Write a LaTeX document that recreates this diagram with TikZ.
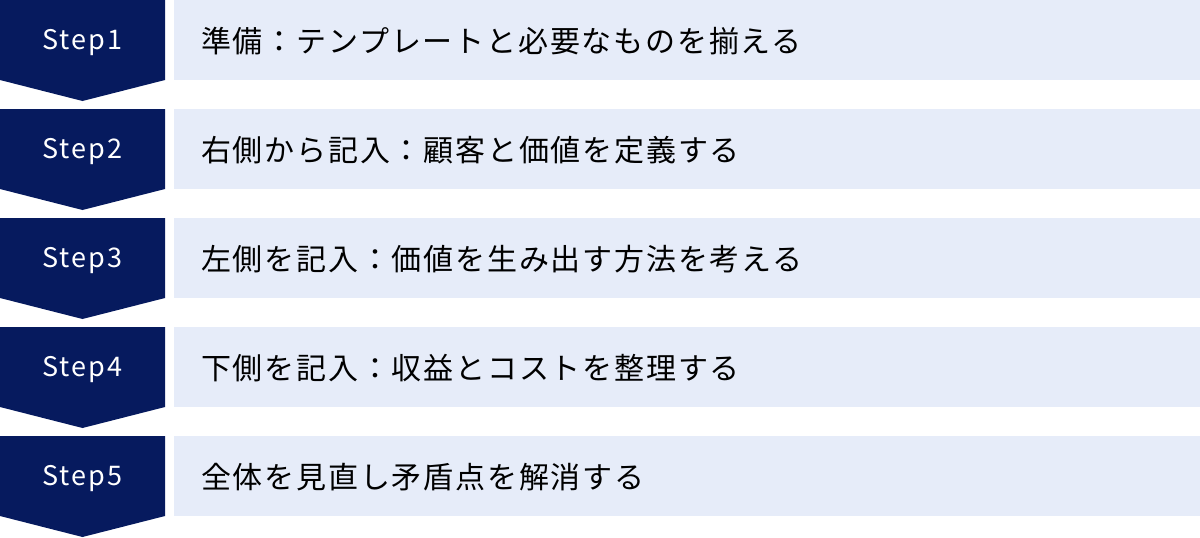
\documentclass[tikz,border=0pt]{standalone}
\usepackage{fontspec}
\setmainfont{Noto Sans CJK JP}[LetterSpace=6]
\newfontfamily\stepfont{Noto Sans CJK JP}[LetterSpace=8]
\definecolor{navy}{HTML}{061A5E}
\definecolor{paleblue}{HTML}{E6ECF9}
\tikzset{
  steplabel/.style={text=white, font=\stepfont\fontsize{27}{30}\selectfont, inner sep=0},
  stepdesc/.style={anchor=west, font=\fontsize{30}{34}\selectfont, inner sep=0},
}
\begin{document}
\begin{tikzpicture}[x=1pt, y=-1pt]
  \useasboundingbox (0,0) rectangle (1200,538);
  % STEP 1
  % -- chevron
  \fill[navy] (0,0) -- (165,0) -- (165,80) -- (82.5,101) -- (0,80) -- cycle;
  \node[steplabel] (s1) at (82.5,43) {Step1};
  % -- band
  \fill[paleblue] (174,0) rectangle (1200,80);
  \node[stepdesc] (d1) at (201,41) {準備：テンプレートと必要なものを揃える};
  % STEP 2
  % -- chevron
  \fill[navy] (0,109) -- (165,109) -- (165,189) -- (82.5,210) -- (0,189) -- cycle;
  \node[steplabel] (s2) at (82.5,152) {Step2};
  % -- band
  \fill[paleblue] (174,109) rectangle (1200,189);
  \node[stepdesc] (d2) at (201,150) {右側から記入：顧客と価値を定義する};
  % STEP 3
  % -- chevron
  \fill[navy] (0,218) -- (165,218) -- (165,298) -- (82.5,319) -- (0,298) -- cycle;
  \node[steplabel] (s3) at (82.5,261) {Step3};
  % -- band
  \fill[paleblue] (174,218) rectangle (1200,298);
  \node[stepdesc] (d3) at (201,259) {左側を記入：価値を生み出す方法を考える};
  % STEP 4
  % -- chevron
  \fill[navy] (0,327) -- (165,327) -- (165,407) -- (82.5,428) -- (0,407) -- cycle;
  \node[steplabel] (s4) at (82.5,370) {Step4};
  % -- band
  \fill[paleblue] (174,327) rectangle (1200,407);
  \node[stepdesc] (d4) at (201,368) {下側を記入：収益とコストを整理する};
  % STEP 5
  % -- chevron
  \fill[navy] (0,436) -- (165,436) -- (165,516) -- (82.5,537) -- (0,516) -- cycle;
  \node[steplabel] (s5) at (82.5,479) {Step5};
  % -- band
  \fill[paleblue] (174,436) rectangle (1200,516);
  \node[stepdesc] (d5) at (201,477) {全体を見直し矛盾点を解消する};
\end{tikzpicture}
\end{document}
